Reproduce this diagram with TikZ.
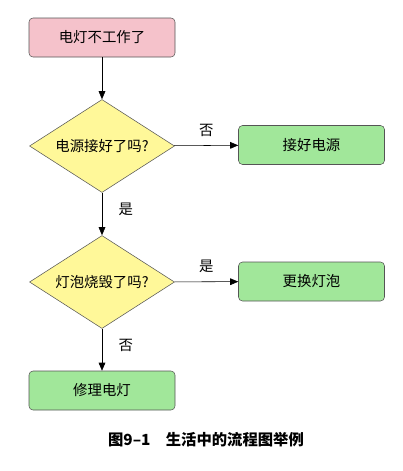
\documentclass[tikz,border=0pt]{standalone}
\usepackage{fontspec}
\usepackage{xcolor}
\usetikzlibrary{shapes.geometric,arrows.meta}
\newfontfamily\cjk{Noto Sans CJK SC}
\definecolor{startpink}{HTML}{F5C2CB}
\definecolor{askyellow}{HTML}{FFF899}
\definecolor{dogreen}{HTML}{A1E79A}
\definecolor{edgegray}{HTML}{555555}
\tikzset{
  stepbox/.style={align=center, minimum width=109.5pt, minimum height=29.25pt, draw=edgegray, rounded corners=3pt, font=\cjk\fontsize{10.8}{12}\selectfont},
  askbox/.style={diamond, minimum width=108.75pt, minimum height=69.75pt, inner sep=0pt, draw=edgegray, fill=askyellow, label={[font=\cjk\fontsize{10.8}{12}\selectfont]center:#1}},
  flow/.style={-{Triangle[length=6pt,width=5pt]}, black},
  tag/.style={font=\cjk\fontsize{10.8}{12}\selectfont}
}
\begin{document}
\begin{tikzpicture}[x=0.75pt,y=0.75pt,yscale=-1]

    \useasboundingbox (0,0) rectangle (403,471);
    \draw (102,37.5) node [stepbox, fill=startpink] (broken) {电灯不工作了};
    \draw (102,146) node [askbox={电源接好了吗?}] (power) {};
    \draw (311.5,145) node [stepbox, fill=dogreen] (plug) {接好电源};
    \draw (102,282) node [askbox={灯泡烧毁了吗?}] (bulb) {};
    \draw (311.5,281.5) node [stepbox, fill=dogreen] (swap) {更换灯泡};
    \draw (102,390.5) node [stepbox, fill=dogreen] (repair) {修理电灯};
    \draw (broken) -- (power) [flow];
    \draw (power) -- (plug) [flow] node [tag, pos=0.5, above=3pt] {否};
    \draw (power) -- (bulb) [flow] node [tag, pos=0.4, right=9pt] {是};
    \draw (bulb) -- (swap) [flow] node [tag, pos=0.5, above=3pt] {是};
    \draw (bulb) -- (repair) [flow] node [tag, pos=0.4, right=9pt] {否};
    \draw (206,440) node [font=\cjk\bfseries\fontsize{11.5}{13}\selectfont] (caption) {图9–1\quad 生活中的流程图举例};

\end{tikzpicture}
\end{document}
